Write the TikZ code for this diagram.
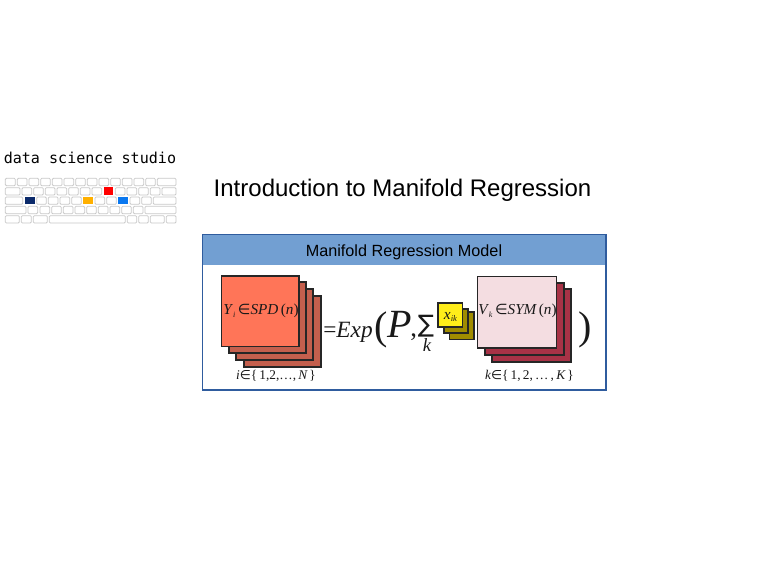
\documentclass[tikz,border=0pt]{standalone}
\usepackage{fontspec}
\setmainfont{Liberation Sans}
\newfontfamily\serifm{Liberation Serif}
\newfontfamily\monof{DejaVu Sans Mono}
\newfontfamily\symf{DejaVu Sans}
\newcommand{\fs}[1]{\fontsize{#1}{#1}\selectfont}
\newcommand{\elem}{{\symf\upshape\scalebox{0.95}{∈}}}
\definecolor{headblue}{HTML}{729FD2}
\definecolor{frameblue}{HTML}{2F5C9E}
\definecolor{salmon}{HTML}{FF7558}
\definecolor{salmondk}{HTML}{C45F4D}
\definecolor{pinkl}{HTML}{F4DDE1}
\definecolor{maroon}{HTML}{A83246}
\definecolor{yel}{HTML}{FFED1A}
\definecolor{olive}{HTML}{A08C00}
\definecolor{keyg}{HTML}{C8C8C8}
\definecolor{knavy}{HTML}{0B2A6B}
\definecolor{korange}{HTML}{FFB000}
\definecolor{kblue}{HTML}{0A78F0}
\tikzset{
  sheet/.style={draw=black!85,line width=0.8pt},
  mtext/.style={inner sep=0pt,text=black!90,font=\serifm\itshape},
  key/.style={draw=keyg,line width=0.6pt,fill=white,rounded corners=0.8pt},
}
\newcommand{\keyrow}[2]{%
  \foreach \a/\b in {#2} {
    \draw[key] ({\a/3},{145+#1/3}) rectangle ({\b/3},{145+(#1+22)/3});
  }%
}
\newcommand{\hotkey}[3]{%
  \fill[#3] ({#1/3},{145+#2/3}) rectangle ({(#1+29)/3},{145+(#2+23)/3});
}
\begin{document}
\begin{tikzpicture}[x=0.75pt,y=-0.75pt]
\useasboundingbox (0,0) rectangle (768,565);
\fill[white] (0,0) rectangle (768,565);
% logo
\node[anchor=base west,inner sep=0pt,font=\monof\fs{11.3pt}] (logo) at (3.5,163.5) {data science studio};
\keyrow{100}{16/46,52/81,87/116,122/151,157/186,192/221,227/256,262/291,297/326,332/361,367/396,402/431,437/466,472/528}
\keyrow{128}{16/60,66/95,101/130,136/165,171/200,206/235,241/270,276/305,346/375,381/410,416/445,451/480,486/528}
\keyrow{156}{16/68,110/139,145/174,180/209,215/244,285/314,320/349,390/419,425/454,460/528}
\keyrow{184}{16/78,84/113,120/149,155/184,190/219,225/254,260/289,295/324,330/359,365/394,400/429,435/528}
\keyrow{212}{16/58,64/94,100/142,148/376,382/410,416/445,451/493,499/528}
\hotkey{311}{127}{red}
\hotkey{75}{155}{knavy}
\hotkey{250}{155}{korange}
\hotkey{355}{155}{kblue}
% title
\node[anchor=base,inner sep=0pt,font=\fs{18pt}] (title) at (402.5,196) {Introduction to Manifold Regression};
% panel
\draw[frameblue,line width=1.2pt,fill=white] (202.5,234.5) rectangle (606,390);
\fill[headblue] (203,235) rectangle (605.5,265);
\draw[frameblue,line width=1.2pt] (202.5,234.5) rectangle (606,390);
\node[anchor=base,inner sep=0pt,font=\fs{12.15pt}] (head) at (404,256) {Manifold Regression Model};
% Y stack
\draw[sheet,fill=salmondk] (244,296) rectangle (321,367);
\draw[sheet,fill=salmondk] (236,289) rectangle (313,360);
\draw[sheet,fill=salmondk] (229,282) rectangle (306,353);
\draw[sheet,fill=salmon] (221.5,276) rectangle (299,346.5);
\node[mtext,font=\serifm\itshape\fs{11.4pt}] (ylab) at (261,311) {Y\raisebox{-2pt}{\fs{6pt}\,i}\,\elem SPD\,{\serifm\upshape(}n{\serifm\upshape)}};
\node[mtext,font=\serifm\itshape\fs{10pt}] (yidx) at (276,375.5) {i\elem{\upshape\serifm\{\,1,2,…,\,}N{\upshape\serifm\,\}}};
% formula
\node[mtext,anchor=base west,font=\serifm\itshape\fs{17.5pt}] (eq) at (323,337) {{\upshape=}Exp};
\node[mtext,anchor=base west,font=\serifm\fs{30pt}] (lpar) at (374,339) {(};
\node[mtext,anchor=base west,font=\serifm\itshape\fs{30pt}] (pp) at (387,337) {P};
\node[mtext,anchor=base west,font=\serifm\fs{20pt}] (cm) at (410,336) {,};
\node[mtext,anchor=base,font=\symf\fs{18pt}] (sig) at (426,332) {∑};
\node[mtext,anchor=base,font=\serifm\itshape\fs{14pt}] (kk) at (427,351) {k};
% x stack
\draw[sheet,fill=olive] (449.5,312) rectangle (474,339.5);
\draw[sheet,fill=olive] (444,309) rectangle (468,333);
\draw[sheet,fill=yel] (438,303) rectangle (462.5,327);
\node[mtext,anchor=base,font=\serifm\itshape\fs{11.5pt}] (xlab) at (450.5,319.5) {x\raisebox{-1.5pt}{\fs{6.5pt}ik}};
% V stack
\draw[sheet,fill=maroon] (492,289) rectangle (571,362);
\draw[sheet,fill=maroon] (485,283) rectangle (564,355);
\draw[sheet,fill=pinkl] (477.5,276.5) rectangle (556.5,348);
\node[mtext,font=\serifm\itshape\fs{11.4pt}] (vlab) at (517.5,311) {V\raisebox{-2pt}{\fs{6pt}\,k}\,\elem SYM\,{\serifm\upshape(}n{\serifm\upshape)}};
\node[mtext,font=\serifm\itshape\fs{10pt}] (vidx) at (529.5,375.5) {k\elem{\upshape\serifm\{\,1,\,2,\,…\,,\,}K{\upshape\serifm\,\}}};
\node[mtext,anchor=base west,font=\serifm\fs{30pt}] (rpar) at (578,339) {)};
\end{tikzpicture}
\end{document}
